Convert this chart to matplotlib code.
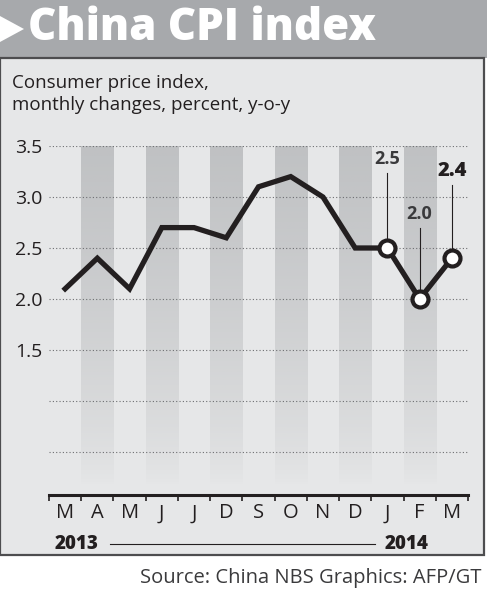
import numpy as np
import matplotlib.pyplot as plt
from matplotlib.patches import Rectangle, Polygon

plt.rcParams["font.family"] = ["Open Sans", "Lato", "DejaVu Sans"]

# data
months = ["M", "A", "M", "J", "J", "D", "S", "O", "N", "D", "J", "F", "M"]
cpi = [2.1, 2.4, 2.1, 2.7, 2.7, 2.6, 3.1, 3.2, 3.0, 2.5, 2.5, 2.0, 2.4]
y_ticks = [1.5, 2.0, 2.5, 3.0, 3.5]
y_tick_labels = ["1.5", "2.0", "2.5", "3.0", "3.5"]
grid_levels = [0.5, 1.0, 1.5, 2.0, 2.5, 3.0, 3.5]
highlight_idx = [10, 11, 12]
highlight_labels = ["2.5", "2.0", "2.4"]
label_tops = [3.37, 2.83, 3.25]
years = ["2013", "2014"]

W, H = 487, 593
fig = plt.figure(figsize=(W / 100, H / 100), dpi=100)
fig.patch.set_facecolor("white")

# background panel / header in pixel coords
bg = fig.add_axes([0, 0, 1, 1])
bg.set_xlim(0, W)
bg.set_ylim(H, 0)
bg.axis("off")
bg.add_patch(Rectangle((0, 0), W, 58, facecolor="#a7a9ac", edgecolor="none"))
bg.add_patch(Rectangle((0, 58), 484, 497, facecolor="#e6e7e8",
                       edgecolor="#4d4d4f", linewidth=1.6))
bg.add_patch(Polygon([[0, 16], [0, 42], [24, 29]], closed=True,
                     facecolor="white", edgecolor="none"))
bg.text(28, 28, "China CPI index", color="white", fontsize=31.5,
        fontweight="heavy", va="center", ha="left")
bg.text(12, 83, "Consumer price index,", fontsize=13.5, color="#231f20",
        va="center", ha="left")
bg.text(12, 105, "monthly changes, percent, y-o-y", fontsize=13.5,
        color="#231f20", va="center", ha="left")
bg.text(482, 578, "Source: China NBS Graphics: AFP/GT", fontsize=14.5,
        color="#3a3a3c", va="center", ha="right")

# chart axes: x from 49 to 468 px, y value 3.5 at 146 px, 0.5 per 51 px
x0, x1 = 49, 468
y_top_px, y_bot_px = 146, 495
v_top = 3.5
v_bot = v_top - (y_bot_px - y_top_px) / 102.0
ax = fig.add_axes([x0 / W, 1 - y_bot_px / H, (x1 - x0) / W,
                   (y_bot_px - y_top_px) / H])
ax.set_xlim(-0.5, len(months) - 0.5)
ax.set_ylim(v_bot, v_top)
ax.patch.set_alpha(0)
for s in ["top", "right", "left"]:
    ax.spines[s].set_visible(False)
ax.spines["bottom"].set_linewidth(2.2)
ax.spines["bottom"].set_color("#231f20")

# shaded columns with fade to the bottom
fade = np.linspace(1, 0, 200)
rgba = np.zeros((200, 1, 4))
rgba[:, 0, 0] = 0.60
rgba[:, 0, 1] = 0.61
rgba[:, 0, 2] = 0.62
rgba[:, 0, 3] = 0.5 * fade ** 0.7
for i in range(1, len(months), 2):
    ax.imshow(rgba, extent=[i - 0.5, i + 0.5, v_bot + 0.1, v_top],
              aspect="auto", zorder=0, interpolation="bilinear")

for g in grid_levels:
    ax.axhline(g, color="#6d6e71", linewidth=0.8, linestyle=(0, (1, 2)),
               zorder=1)

x = np.arange(len(months))
ax.plot(x, cpi, color="#231f20", linewidth=3.8, solid_joinstyle="miter",
        zorder=3)
hx = [x[i] for i in highlight_idx]
hy = [cpi[i] for i in highlight_idx]
ax.plot(hx, hy, "o", markersize=11.5, markerfacecolor="white",
        markeredgecolor="#231f20", markeredgewidth=3, zorder=4)

for xi, yi, lab, top in zip(hx, hy, highlight_labels, label_tops):
    ax.plot([xi, xi], [yi + 0.1, top - 0.13], color="#231f20",
            linewidth=0.8, zorder=2)
    big = lab == "2.4"
    ax.text(xi, top, lab, ha="center", va="center",
            fontsize=14.5 if big else 13, fontweight="heavy" if big else "bold",
            color="#231f20" if big else "#3a3a3c", zorder=5)

ax.set_yticks(y_ticks)
ax.set_yticklabels(y_tick_labels)
ax.tick_params(axis="y", length=0, pad=5, labelsize=14, colors="#231f20")
ax.set_xticks(np.arange(-0.5, len(months) + 0.5, 1), minor=True)
ax.set_xticks(x)
ax.set_xticklabels(months)
ax.tick_params(axis="x", which="major", length=0, pad=6, labelsize=14.5,
               colors="#231f20")
ax.tick_params(axis="x", which="minor", length=4, width=1.2,
               direction="out", colors="#231f20")

# year line
bg.text(55, 544, years[0], fontsize=13.5, fontweight="heavy",
        color="#231f20", va="center", ha="left")
bg.text(385, 544, years[1], fontsize=13.5, fontweight="heavy",
        color="#231f20", va="center", ha="left")
bg.plot([110, 375], [544, 544], color="#231f20", linewidth=0.8)

fig.savefig("out.png", dpi=100)
